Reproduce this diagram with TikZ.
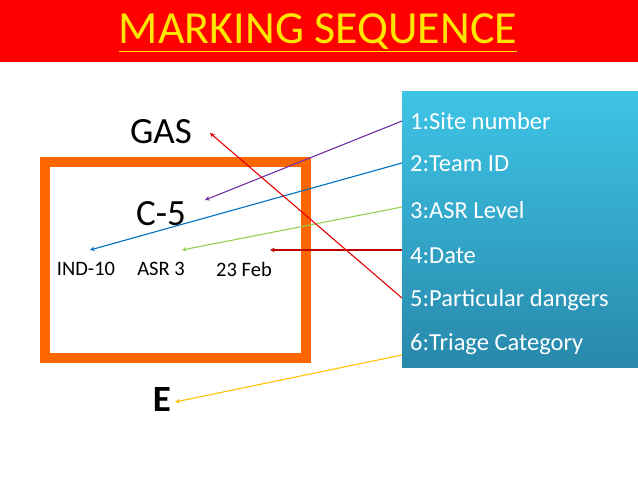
\documentclass[tikz,border=0pt]{standalone}
\usepackage{fontspec}
\setmainfont{Carlito}
\begin{document}
\begin{tikzpicture}[x=1pt,y=-1pt,
  item/.style={anchor=west,text=white,font=\fontsize{24.5}{24.5}\selectfont,inner sep=0},
  big/.style={font=\fontsize{37}{37}\selectfont,inner sep=0},
  small/.style={font=\fontsize{20.5}{20.5}\selectfont,inner sep=0},
  arr/.style={->,>=stealth,line width=1.1pt}]
\useasboundingbox (0,0) rectangle (638,478);
\fill[red] (0,0) rectangle (638,62);
\node[text={rgb,255:red,255;green,230;blue,0},font=\fontsize{46}{46}\selectfont] (title) at (318,33) {\underline{MARKING SEQUENCE}};
\draw[color={rgb,255:red,255;green,102;blue,0},line width=10] (45,162) rectangle (306,358);
\shade[top color={rgb,255:red,62;green,196;blue,230},bottom color={rgb,255:red,40;green,136;blue,170}] (402,92) rectangle (638,368);
\node[item] (i1) at (410,121) {1:Site number};
\node[item] (i2) at (410,164) {2:Team ID};
\node[item] (i3) at (410,210) {3:ASR Level};
\node[item] (i4) at (410,256) {4:Date};
\node[item] (i5) at (410,300) {5:Particular dangers};
\node[item] (i6) at (410,344) {6:Triage Category};
\node[big] (gas) at (161,132) {GAS};
\node[big] (c5) at (161,214) {C-5};
\node[big,font=\fontsize{37}{37}\selectfont\bfseries] (e) at (162,400) {E};
\node[small] (ind) at (86,269) {IND-10};
\node[small] (asr) at (161,269) {ASR 3};
\node[small] (feb) at (244,269) {23 Feb};
\coordinate (s1) at (402,121); \coordinate (t1) at (205,200);
\coordinate (s2) at (402,163); \coordinate (t2) at (90,250);
\coordinate (s3) at (402,207); \coordinate (t3) at (182,250);
\coordinate (s4) at (402,250); \coordinate (t4) at (270,250);
\coordinate (s5) at (402,298); \coordinate (t5) at (210,133);
\coordinate (s6) at (402,355); \coordinate (t6) at (175,402);
\draw[arr,color={rgb,255:red,112;green,48;blue,160}] (s1) -- (t1);
\draw[arr,color={rgb,255:red,0;green,112;blue,192}] (s2) -- (t2);
\draw[arr,color={rgb,255:red,146;green,208;blue,80}] (s3) -- (t3);
\draw[arr,color={rgb,255:red,192;green,0;blue,0}] (s4) -- (t4);
\draw[arr,color={rgb,255:red,230;green,0;blue,0}] (s5) -- (t5);
\draw[arr,color={rgb,255:red,255;green,192;blue,0}] (s6) -- (t6);
\end{tikzpicture}
\end{document}
